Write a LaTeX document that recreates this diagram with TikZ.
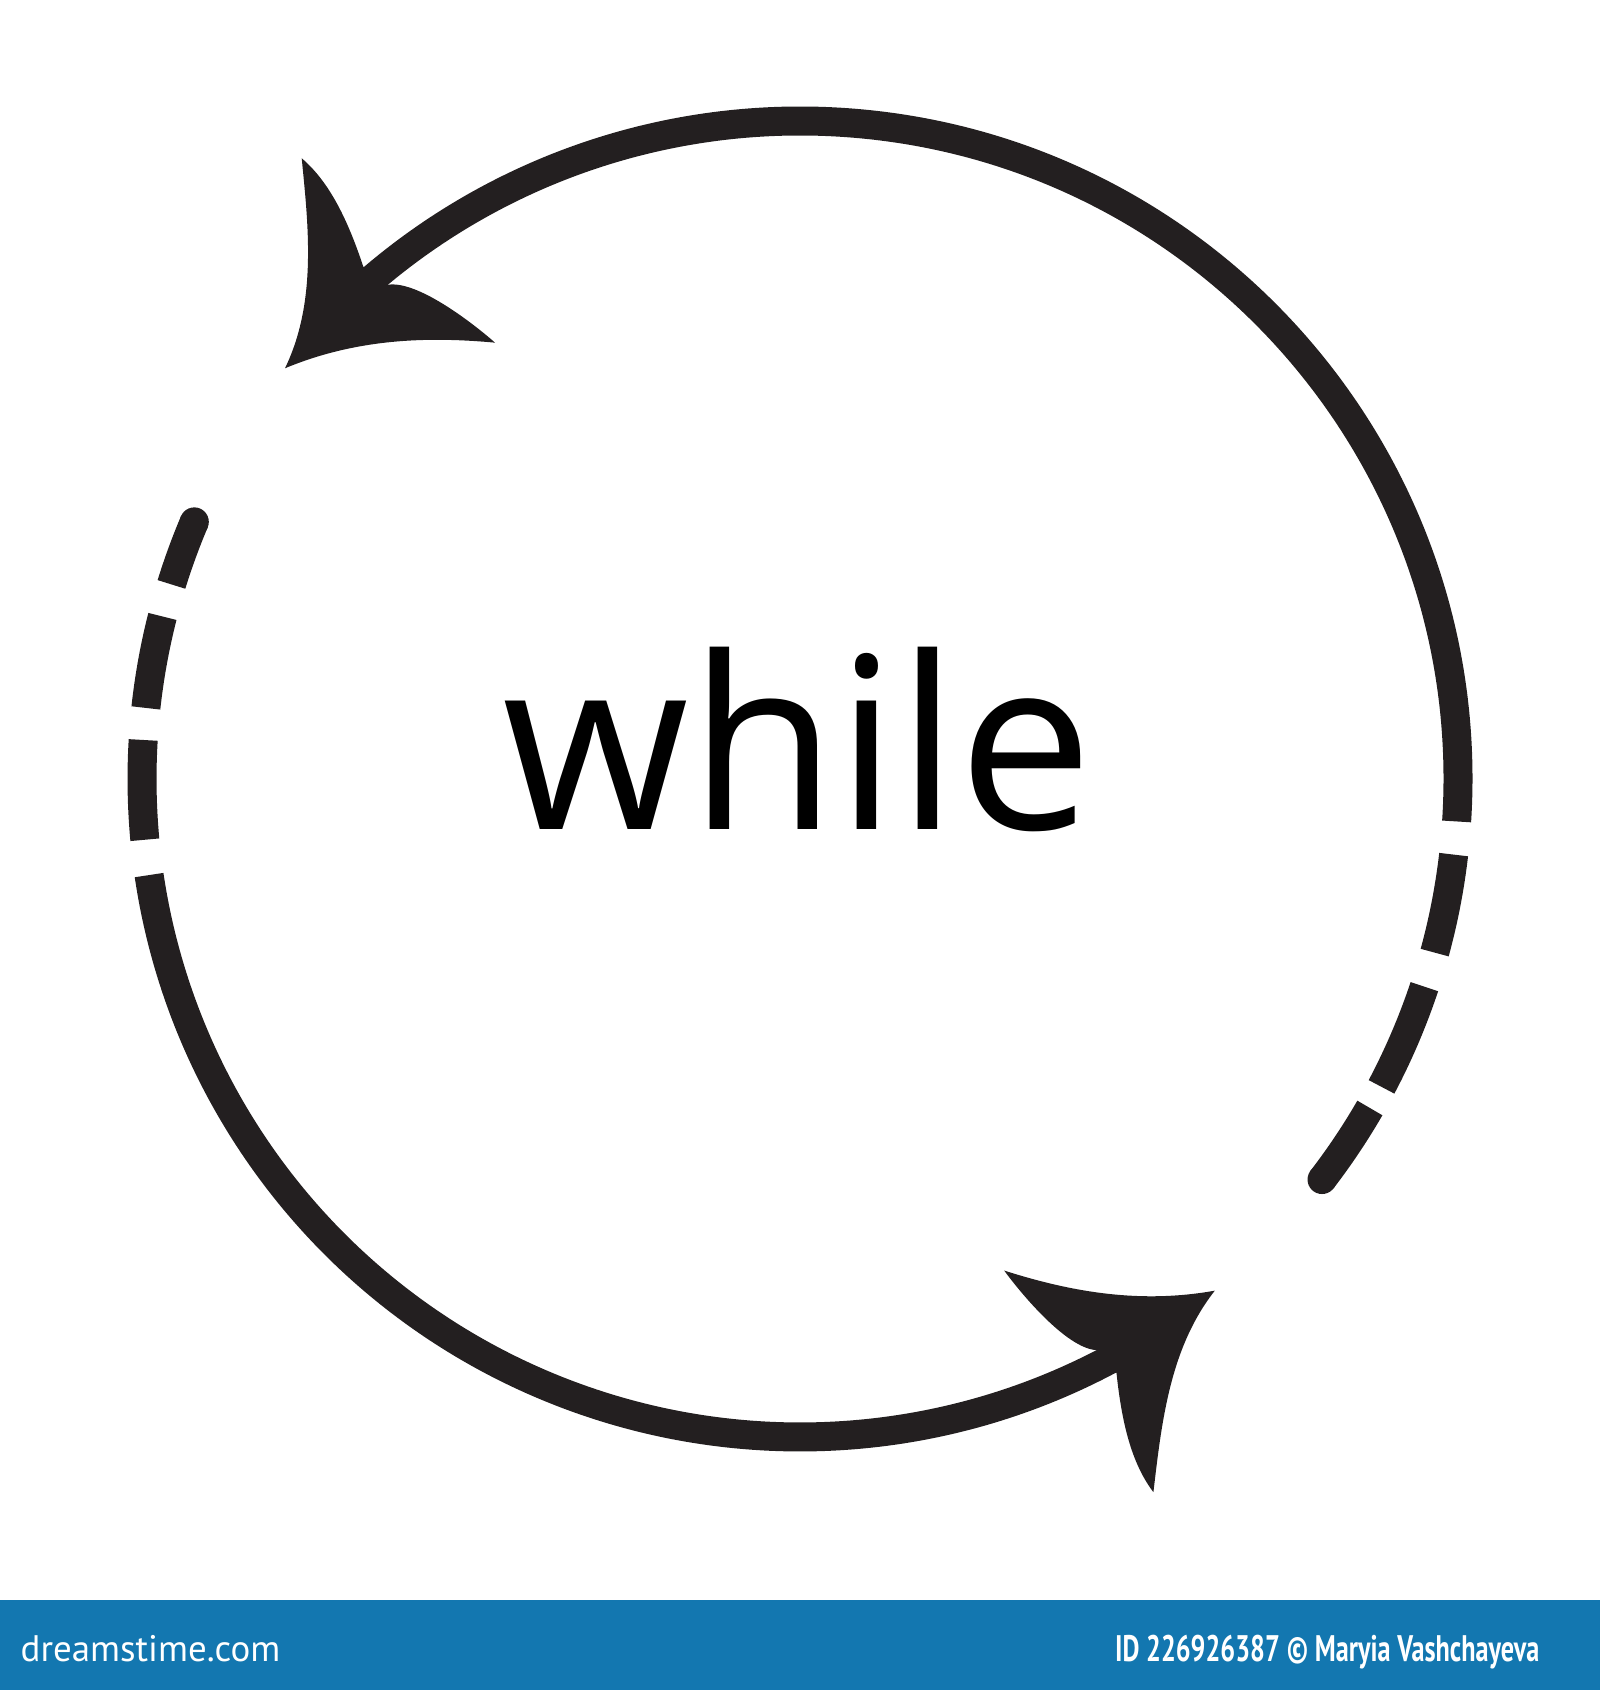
\documentclass[tikz,border=0pt]{standalone}
\usepackage{fontspec}
\setmainfont{PT Sans}
\newfontfamily\wordfont{Open Sans}
\usetikzlibrary{positioning}
\definecolor{ink}{HTML}{231F20}
\definecolor{barblue}{HTML}{1377B0}

% swept arrow head, drawn for the upper left tip, turned by #1 about the ring centre
\newcommand{\sweptHead}[1]{%
  \fill[ink, rotate=#1] (-4.983,6.207) .. controls (-4.914,5.511) and (-4.832,4.766) .. (-5.150,4.107)
    .. controls (-4.450,4.398) and (-3.750,4.428) .. (-3.050,4.363)
    .. controls (-3.210,4.506) and (-3.823,5.003) .. (-4.133,4.940) -- (-4.367,5.123)
    .. controls (-4.521,5.586) and (-4.703,5.969) .. cycle;}

\begin{document}
\begin{tikzpicture}[
    ring/.style={draw=ink, line width=0.29cm},
    dashpart/.style={ring, line cap=butt},
    word/.style={font=\wordfont\fontsize{68.3}{68.3}\selectfont, text=black, inner sep=0pt},
    credit/.style={font=\fontsize{10.5}{12}\selectfont\bfseries, text=white, inner sep=0pt}
]
\useasboundingbox (0,0) rectangle (16,16.9);

% Ring
\begin{scope}[shift={(8,9.11)}]
  \draw[ring] (-3.7:6.58) arc[start angle=-3.7, end angle=131, radius=6.58];
  \draw[ring] (188.4:6.58) arc[start angle=188.4, end angle=299, radius=6.58];
  \foreach \a/\b in {-6.6/-15.3, -18.4/-27.9, -30/-37.5, 165.7/173.8, 176.6/185.3, 157/162.8}
    \draw[dashpart] (\a:6.58) arc[start angle=\a, end angle=\b, radius=6.58];
  \fill[ink] (-37.5:6.58) circle (0.145);
  \fill[ink] (157:6.58) circle (0.145);
  % Heads
  \sweptHead{0}
  \sweptHead{167.6}
\end{scope}

% Nodes
\node[word, anchor=base] (while) at (7.975,8.60) {while};

% Footer
\fill[barblue] (0,0) rectangle (16,0.9);
\node[credit, font=\fontsize{10.5}{12}\selectfont, anchor=base west] (site) at (0.2,0.28) {dreamstime.com};
\node[credit, anchor=base east] (id) at (15.4,0.28) {\scalebox{0.71}[1]{ID 226926387 © Maryia Vashchayeva}};

\end{tikzpicture}
\end{document}
